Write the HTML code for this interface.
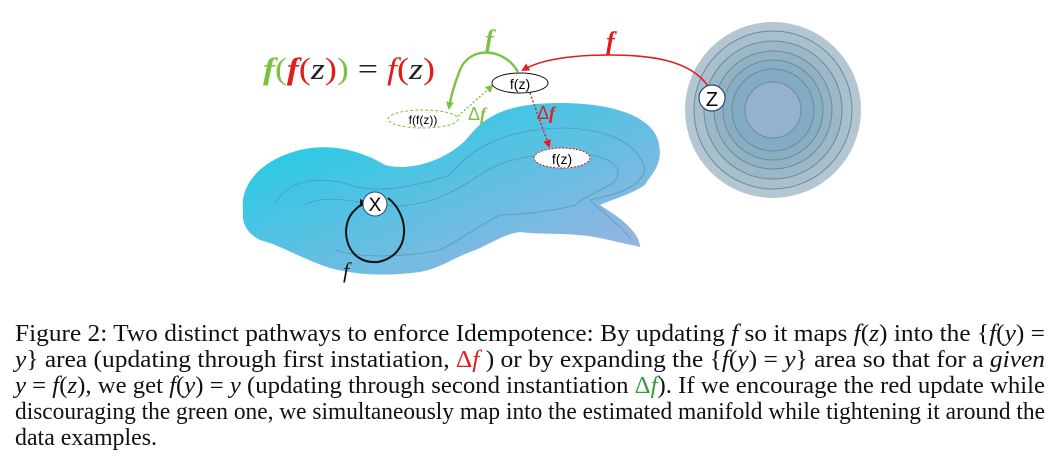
<!DOCTYPE html>
<html><head><meta charset="utf-8"><style>
html,body{margin:0;padding:0;background:#fff;width:1061px;height:460px;overflow:hidden}
</style></head><body>
<svg width="1061" height="460" viewBox="0 0 1061 460" xmlns="http://www.w3.org/2000/svg">
<defs>
<linearGradient id="bg" x1="0" y1="0" x2="1" y2="1">
<stop offset="0" stop-color="#10d0e8"/><stop offset="0.5" stop-color="#5cc0e2"/><stop offset="1" stop-color="#a8b0e0"/>
</linearGradient>
<marker id="ag" markerWidth="8" markerHeight="8" refX="6" refY="4" orient="auto" markerUnits="userSpaceOnUse"><path d="M0,0 L8,4 L0,8 z" fill="#7cc242"/></marker>
<marker id="ar" markerWidth="8" markerHeight="8" refX="6" refY="4" orient="auto" markerUnits="userSpaceOnUse"><path d="M0,0 L8,4 L0,8 z" fill="#e21b1b"/></marker>
<marker id="ak" markerWidth="8" markerHeight="8" refX="6" refY="4" orient="auto" markerUnits="userSpaceOnUse"><path d="M0,0 L8,4 L0,8 z" fill="#111"/></marker>
</defs>
<g stroke="#6e8a98" stroke-width="1">
<circle cx="773" cy="110" r="88" fill="#b4c6d2" stroke="none"/>
<circle cx="773" cy="110" r="79" fill="#a8c0cc"/>
<circle cx="773" cy="110" r="69" fill="#9cb8c8"/>
<circle cx="773" cy="110" r="59" fill="#92b2c4"/>
<circle cx="773" cy="110" r="50" fill="#88aec4"/>
<circle cx="773" cy="110" r="41" fill="#82abc6"/>
<circle cx="773" cy="110" r="28" fill="#94b2ce"/>
</g>
<path d="M243,210 C240,185 260,160 300,150 C330,143 360,150 385,165 C410,172 450,160 470,135 C490,110 520,103 560,103 C610,103 650,115 658,140 C665,165 650,175 645,185 C630,195 610,200 600,205 L615,215 C625,222 640,235 640,247 L600,238 C570,232 540,235 520,232 C500,235 490,245 470,252 C450,260 440,268 420,272 C390,276 360,276 330,268 C300,258 280,245 260,240 C245,232 242,222 243,210 Z" fill="url(#bg)"/>
<g fill="none" stroke="#4a8aa8" stroke-width="0.8" opacity="0.7">
<path d="M275,205 C285,180 320,175 350,185 C380,195 420,185 450,175 C470,150 500,130 560,128 C610,128 640,145 645,170 C640,190 610,195 590,200 C600,210 620,225 630,238"/>
<path d="M305,205 C320,195 350,200 380,205 C420,210 450,195 480,175 C500,160 540,150 590,155 C620,160 625,175 610,185 C590,195 580,200 575,205 C560,210 520,215 500,215 C480,225 460,240 440,250 C400,258 360,258 335,250"/>
</g>
<path d="M388,198 C410,215 412,255 378,262 C345,265 338,225 355,210 C360,205 363,203 366,203" fill="none" stroke="#111" stroke-width="2" marker-end="url(#ak)"/>
<circle cx="375" cy="204" r="12" fill="#fff" stroke="#2a4a8a" stroke-width="1"/>
<text x="375" y="211" font-family="Liberation Sans,sans-serif" font-size="19" text-anchor="middle">X</text>
<text x="343" y="278" font-family="Liberation Serif,serif" font-style="italic" font-size="22" fill="#111">f</text>
<path d="M708,86 C690,60 650,55 610,55 C570,55 540,60 523,70" fill="none" stroke="#e21b1b" stroke-width="1.6" marker-end="url(#ar)"/>
<circle cx="712" cy="98" r="13" fill="#fff" stroke="#2a4a8a" stroke-width="1.2"/>
<text x="712" y="106" font-family="Liberation Sans,sans-serif" font-size="20" text-anchor="middle">Z</text>
<text x="606" y="50" font-family="Liberation Serif,serif" font-style="italic" font-weight="bold" font-size="26" fill="#e21b1b">f</text>
<path d="M518,72 C505,48 470,45 460,70 C454,85 451,95 449,108" fill="none" stroke="#7cc242" stroke-width="2.4" marker-end="url(#ag)"/>
<text x="485" y="48" font-family="Liberation Serif,serif" font-style="italic" font-weight="bold" font-size="26" fill="#7cc242">f</text>
<path d="M458,116 L492,86" fill="none" stroke="#7cc242" stroke-width="1.4" stroke-dasharray="2,2" marker-end="url(#ag)"/>
<text x="468" y="120" font-family="Liberation Sans,sans-serif" font-size="18" fill="#7cc242">Δ<tspan font-family="Liberation Serif,serif" font-style="italic" font-weight="bold">f</tspan></text>
<path d="M530,93 L549,146" fill="none" stroke="#e21b1b" stroke-width="1.4" stroke-dasharray="2,2" marker-end="url(#ar)"/>
<text x="537" y="119" font-family="Liberation Sans,sans-serif" font-size="18" fill="#e21b1b">Δ<tspan font-family="Liberation Serif,serif" font-style="italic" font-weight="bold">f</tspan></text>
<ellipse cx="520" cy="83" rx="28" ry="10" fill="#fff" stroke="#111" stroke-width="1"/>
<text x="520" y="89" font-family="Liberation Sans,sans-serif" font-size="14" text-anchor="middle">f(z)</text>
<ellipse cx="423" cy="119" rx="35" ry="9" fill="#fff" stroke="#7cc242" stroke-width="1" stroke-dasharray="3,2"/>
<text x="423" y="124" font-family="Liberation Sans,sans-serif" font-size="12" text-anchor="middle">f(f(z))</text>
<ellipse cx="562" cy="158" rx="28" ry="10" fill="#fff" stroke="#c02020" stroke-width="1" stroke-dasharray="2,1.5"/>
<text x="562" y="164" font-family="Liberation Sans,sans-serif" font-size="14" text-anchor="middle">f(z)</text>
<text x="263" y="79" font-family="Liberation Serif,serif" font-size="31" textLength="172" lengthAdjust="spacingAndGlyphs"><tspan fill="#7cc242" font-style="italic" font-weight="bold">f</tspan><tspan fill="#7cc242">(</tspan><tspan fill="#e21b1b" font-style="italic" font-weight="bold">f</tspan><tspan fill="#e21b1b">(</tspan><tspan fill="#222" font-style="italic">z</tspan><tspan fill="#e21b1b">)</tspan><tspan fill="#7cc242">)</tspan><tspan fill="#222"> = </tspan><tspan fill="#e21b1b" font-style="italic">f</tspan><tspan fill="#e21b1b">(</tspan><tspan fill="#222" font-style="italic">z</tspan><tspan fill="#e21b1b">)</tspan></text>
<g font-family="Liberation Serif,serif" font-size="24.5" fill="#111">
<text x="15" y="341" textLength="1030" lengthAdjust="spacingAndGlyphs">Figure 2:   Two distinct pathways to enforce Idempotence: By updating <tspan font-style="italic">f</tspan> so it maps <tspan font-style="italic">f</tspan>(<tspan font-style="italic">z</tspan>) into the {<tspan font-style="italic">f</tspan>(<tspan font-style="italic">y</tspan>) =</text>
<text x="15" y="367" textLength="1030" lengthAdjust="spacingAndGlyphs"><tspan font-style="italic">y</tspan>} area (updating through first instatiation, <tspan fill="#e21b1b">Δ<tspan font-style="italic">f</tspan></tspan> ) or by expanding the {<tspan font-style="italic">f</tspan>(<tspan font-style="italic">y</tspan>) = <tspan font-style="italic">y</tspan>} area so that for a <tspan font-style="italic">given</tspan></text>
<text x="15" y="393" textLength="1030" lengthAdjust="spacingAndGlyphs"><tspan font-style="italic">y</tspan> = <tspan font-style="italic">f</tspan>(<tspan font-style="italic">z</tspan>), we get <tspan font-style="italic">f</tspan>(<tspan font-style="italic">y</tspan>) = <tspan font-style="italic">y</tspan> (updating through second instantiation <tspan fill="#3a9a3a">Δ<tspan font-style="italic">f</tspan></tspan>). If we encourage the red update while</text>
<text x="15" y="419" textLength="1030" lengthAdjust="spacingAndGlyphs">discouraging the green one, we simultaneously map into the estimated manifold while tightening it around the</text>
<text x="15" y="445" textLength="142" lengthAdjust="spacingAndGlyphs">data examples.</text>
</g>
</svg>
</body></html>
